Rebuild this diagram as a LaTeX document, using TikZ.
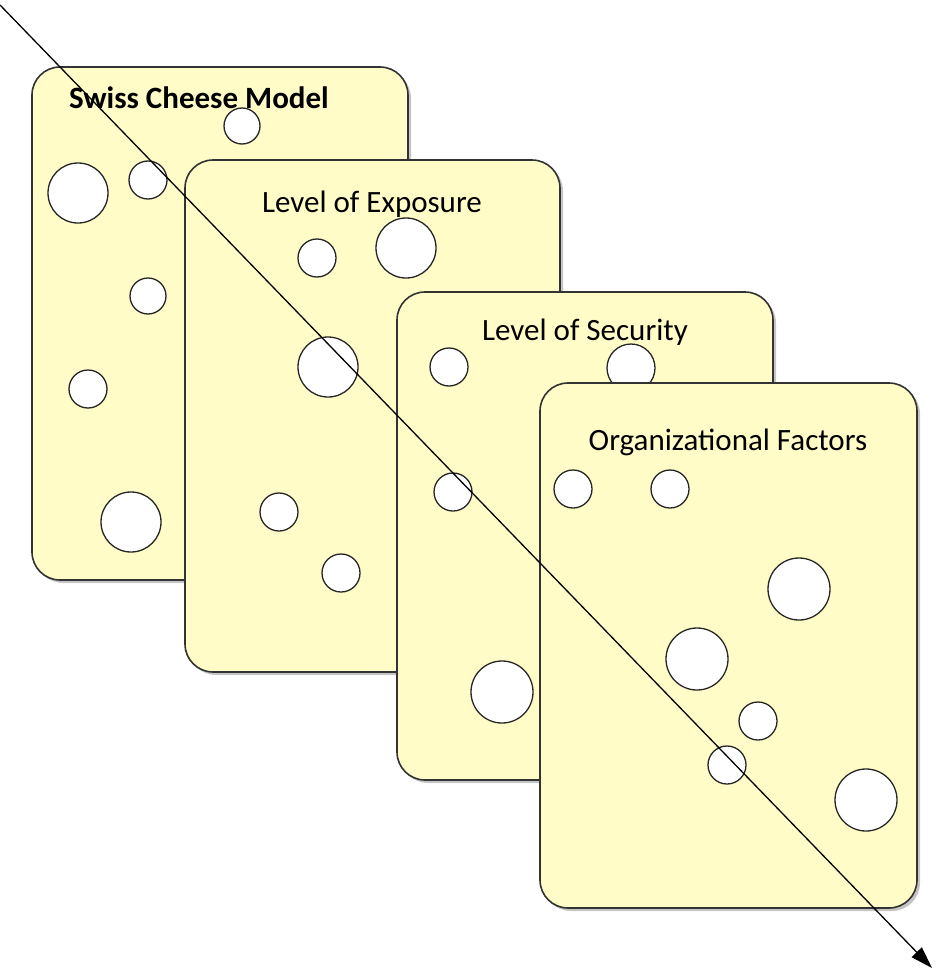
\documentclass[tikz,border=0pt]{standalone}
\usepackage{fontspec}
\setmainfont{Carlito}
\usetikzlibrary{shadows,arrows.meta}
\begin{document}
\begin{tikzpicture}[x=1pt,y=-1pt,
  card/.style={fill=yellow!22!white,draw=black!80,line width=1.6pt,rounded corners=28pt,
    drop shadow={shadow xshift=3pt,shadow yshift=-3pt,fill=black!45}},
  hole/.style={fill=white,draw=black!85,line width=1.3pt},
  lbl/.style={font=\fontsize{31}{36}\selectfont,anchor=base}]
\useasboundingbox (0,0) rectangle (937,974);
\newcommand\holes[1]{\foreach \x/\y/\r in {#1}{\draw[hole] (\x,\y) circle[radius=\r];}}
\draw[card] (32,67) rectangle (408,580);
\node[lbl,font=\bfseries\fontsize{31}{36}\selectfont] (t1) at (199,108) {Swiss Cheese Model};
\holes{242/126/18,78/193/30,148/180/19,148/296/18,88/389/19,131/522/30}
\draw[card] (185,160) rectangle (560,672);
\node[lbl] (t2) at (372,212) {Level of Exposure};
\holes{317/258/19,406/248/30,328/367/30,279/512/19,341/573/19}
\draw[card] (397,292) rectangle (773,780);
\node[lbl] (t3) at (585,340) {Level of Security};
\holes{449/367/19,631/368/24,453/492/19,502/692/31}
\draw[card] (540,383) rectangle (917,908);
\node[lbl] (t4) at (728,450) {Organizational Factors};
\holes{573/489/19,670/489/19,799/589/31,697/659/31,758/721/19,727/765/19,866/800/31}
\coordinate (s) at (0,5);
\coordinate (e) at (932,968);
\draw[line width=1.3pt,-{Triangle[length=22pt,width=14pt]}] (s) -- (e);
\end{tikzpicture}
\end{document}
